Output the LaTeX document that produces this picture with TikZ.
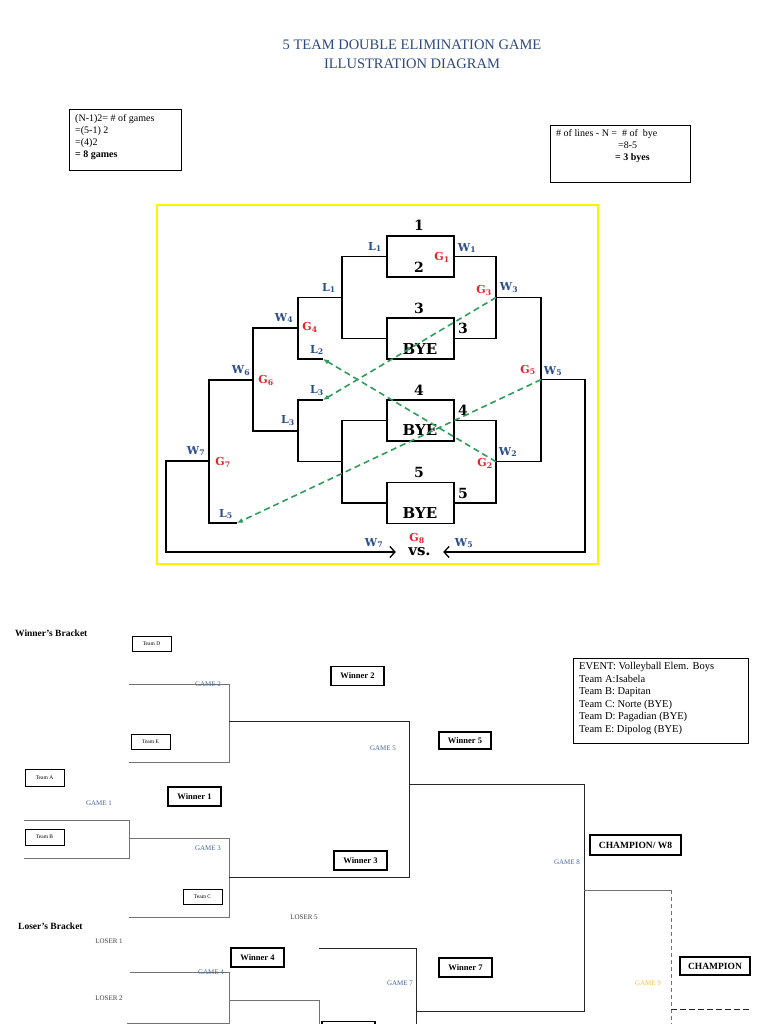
\documentclass[tikz,border=0pt]{standalone}
\usepackage{fontspec}
\setmainfont{Liberation Serif}
\newfontfamily\insetfont{DejaVu Serif}
\usepackage{tikz}
\usetikzlibrary{positioning,arrows.meta}
\definecolor{heading}{HTML}{2E4A7D}
\definecolor{framey}{HTML}{FFF200}
\definecolor{seedblue}{HTML}{2B4E8C}
\definecolor{gamered}{HTML}{E8232A}
\definecolor{dropgreen}{HTML}{2E9E5A}
\definecolor{gameblue}{HTML}{4565A0}
\definecolor{gold}{HTML}{F5C242}
\newcommand{\fsz}[2]{\fontsize{#1}{#2}\selectfont}

\begin{document}
\begin{tikzpicture}[
      x=1pt, y=-1pt,
      title/.style={font=\fsz{14.5}{17}, text=heading, inner sep=0pt},
      notebox/.style={draw, line width=1pt, inner sep=0pt},
      note/.style={font=\fsz{10}{12}, align=left, inner sep=0pt, anchor=north west},
      slot/.style={draw, line width=1.3pt, minimum width=67, minimum height=41, inner sep=0pt},
      seed/.style={font=\insetfont\bfseries\fsz{14}{14}, inner sep=0pt},
      bye/.style={font=\insetfont\bfseries\fsz{15}{15}, inner sep=0pt},
      versus/.style={font=\insetfont\bfseries\fsz{15}{15}, inner sep=0pt, minimum width=47},
      wlbl/.style={font=\insetfont\bfseries\fsz{11}{11}, text=seedblue, inner sep=0pt},
      glbl/.style={font=\insetfont\bfseries\fsz{11}{11}, text=gamered, inner sep=0pt},
      wire/.style={line width=1.3pt},
      final/.style={wire, -{Straight Barb[length=5pt, width=11pt, line width=1.3pt]}},
      crossing/.style={draw=dropgreen, line width=1.6pt, dash pattern=on 6pt off 4pt,
                       -{Latex[length=6pt, width=5pt]}},
      teambox/.style={draw, line width=0.9pt, minimum width=39, minimum height=15,
                      inner sep=0pt, font=\fsz{5.5}{6}},
      winbox/.style={draw, line width=1.1pt, minimum width=53, minimum height=19,
                     inner sep=0pt, font=\bfseries\fsz{8.5}{9}},
      gamelbl/.style={font=\fsz{7}{8}, text=gameblue, inner sep=0pt},
      loserlbl/.style={font=\fsz{7}{8}, text=black!75, inner sep=0pt},
      bracketlbl/.style={font=\bfseries\fsz{9.5}{10}, inner sep=0pt, anchor=west},
      thinwire/.style={line width=0.8pt, draw=black!55},
      darkwire/.style={line width=1pt, draw=black!85},
      dashwire/.style={line width=0.7pt, draw=black!55, dash pattern=on 4pt off 3pt},
      champdash/.style={line width=1pt, draw=black!85, dash pattern=on 6pt off 3pt}
    ]

    \clip (0,0) rectangle (768,1024);
    \fill[white] (0,0) rectangle (768,1024);

    % heading and formulas
    \node[title] (title1) at (412,45) {5 TEAM DOUBLE ELIMINATION GAME};
    \node[title] (title2) at (412,64) {ILLUSTRATION DIAGRAM};

    \node[notebox, minimum width=112, minimum height=61] (games) at (125,140.5) {};
    \node[note] (gamestext) at (75,114)
      {(N-1)2= \# of games\\=(5-1) 2\\=(4)2\\\textbf{= 8 games}};
    \node[notebox, minimum width=140, minimum height=57] (byes) at (620,154.5) {};
    \node[note] (byestext) at (556,129)
      {\# of lines - N =~ \# of~ bye\\\hspace*{62pt}=8-5\\\hspace*{59pt}\textbf{= 3 byes}};

    % illustration
    \draw[draw=framey, line width=2pt] (157,205) rectangle (598,564);

    \node[slot] (slot12) at (420.5,256.5) {};
    \node[slot] (slot3)  at (420.5,338.5) {};
    \node[slot] (slot4)  at (420.5,420.5) {};
    \node[slot] (slot5)  at (420.5,503) {};

    \node[seed] (seed1)  at (419,225) {1};
    \node[seed] (seed2)  at (419,267) {2};
    \node[seed] (seed3)  at (419,308) {3};
    \node[bye]  (bye3)   at (420,349) {BYE};
    \node[seed] (seed3r) at (463,328) {3};
    \node[seed] (seed4)  at (419,390) {4};
    \node[bye]  (bye4)   at (420,430) {BYE};
    \node[seed] (seed4r) at (463,410) {4};
    \node[seed] (seed5)  at (419,472) {5};
    \node[bye]  (bye5)   at (420,513) {BYE};
    \node[seed] (seed5r) at (463,493) {5};
    \node[versus] (vs) at (419.5,552) {vs.};

    \coordinate (l1)  at (342,297.5);
    \coordinate (g3)  at (496,297.5);
    \coordinate (l45) at (342,461.75);
    \coordinate (g2)  at (496,461.75);
    \coordinate (g5)  at (541,379.6);
    \coordinate (g4)  at (298,328);
    \coordinate (l2)  at (323,359);
    \coordinate (l3)  at (323,400);
    \coordinate (l3j) at (298,431);
    \coordinate (g6)  at (253,380);
    \coordinate (g7)  at (209,461);
    \coordinate (l5)  at (237,523);

    \draw[wire] (slot12.west) -| (l1) |- (slot3.west);
    \draw[wire] (slot12.east) -| (g3) |- (slot3.east);
    \draw[wire] (slot4.west) -| (l45) |- (slot5.west);
    \draw[wire] (slot4.east) -| (g2) |- (slot5.east);
    \draw[wire] (g3) -| (g5) |- (g2);
    \draw[wire] (l1) -| (g4) |- (l2);
    \draw[wire] (l3) -| (l3j) |- (l45);
    \draw[wire] (g4) -| (g6) |- (l3j);
    \draw[wire] (g6) -| (g7) |- (l5);
    \draw[final] (g7) -- ++(-43,0) |- (vs.west);
    \draw[final] (g5) -- ++(44,0) |- (vs.east);

    \draw[crossing] (g3) -- (l3);
    \draw[crossing] (g2) -- (l2);
    \draw[crossing] (g5) -- (l5);

    \node[wlbl] (lbl1)  at (375,247) {L\textsubscript{1}};
    \node[wlbl] (wbl1)  at (467,248) {W\textsubscript{1}};
    \node[glbl] (gbl1)  at (442,257) {G\textsubscript{1}};
    \node[wlbl] (lbl1b) at (329,288) {L\textsubscript{1}};
    \node[glbl] (gbl3)  at (484,290) {G\textsubscript{3}};
    \node[wlbl] (wbl3)  at (509,288) {W\textsubscript{3}};
    \node[wlbl] (wbl4)  at (284,318) {W\textsubscript{4}};
    \node[glbl] (gbl4)  at (310,327) {G\textsubscript{4}};
    \node[wlbl] (lbl2)  at (317,350) {L\textsubscript{2}};
    \node[wlbl] (wbl6)  at (241,371) {W\textsubscript{6}};
    \node[glbl] (gbl6)  at (266,380) {G\textsubscript{6}};
    \node[glbl] (gbl5)  at (528,370) {G\textsubscript{5}};
    \node[wlbl] (wbl5)  at (553,371) {W\textsubscript{5}};
    \node[wlbl] (lbl3)  at (317,391) {L\textsubscript{3}};
    \node[wlbl] (lbl3b) at (288,421) {L\textsubscript{3}};
    \node[wlbl] (wbl2)  at (508,452) {W\textsubscript{2}};
    \node[glbl] (gbl2)  at (485,463) {G\textsubscript{2}};
    \node[wlbl] (wbl7)  at (196,451) {W\textsubscript{7}};
    \node[glbl] (gbl7)  at (223,462) {G\textsubscript{7}};
    \node[wlbl] (lbl5)  at (226,514) {L\textsubscript{5}};
    \node[glbl] (gbl8)  at (417,538) {G\textsubscript{8}};
    \node[wlbl] (wbl7b) at (374,543) {W\textsubscript{7}};
    \node[wlbl] (wbl5b) at (464,543) {W\textsubscript{5}};

    % bracket sheet
    \node[bracketlbl] (winners) at (15,633) {Winner's Bracket};
    \node[bracketlbl] (losers) at (18,926) {Loser's Bracket};

    \draw[thinwire] (24,820) -| (129,858) -- (24,858);
    \draw[thinwire] (129,684) -| (229,762) -- (129,762);
    \draw[thinwire] (129,838) -| (229,917) -- (129,917);
    \draw[darkwire] (229,721) -| (409,877) -- (229,877);
    \draw[darkwire] (409,784) -| (584,1011) -- (416,1011);
    \draw[thinwire] (584,890) -- (671,890);
    \draw[dashwire] (671,890) -- (671,1030);
    \draw[champdash] (671,1009) -- (751,1009);
    \draw[darkwire] (319,948) -| (416,1030);
    \draw[thinwire] (130,972) -| (229,1030);
    \draw[thinwire] (229,1000) -| (319,1030);
    \draw[thinwire] (127,1023) -- (229,1023);

    \node[teambox] (teamd) at (151.5,643.5) {Team D};
    \node[teambox] (teame) at (150.5,741.5) {Team E};
    \node[teambox, minimum height=17] (teama) at (44.5,777.5) {Team A};
    \node[teambox, minimum height=16] (teamb) at (44.5,837) {Team B};
    \node[teambox] (teamc) at (202.5,896.5) {Team C};

    \node[winbox] (winner1) at (194.5,796.5) {Winner 1};
    \node[winbox] (winner2) at (357.5,676) {Winner 2};
    \node[winbox] (winner3) at (360.5,860.5) {Winner 3};
    \node[winbox] (winner4) at (257.5,957.5) {Winner 4};
    \node[winbox, minimum width=52, minimum height=17] (winner5) at (465,740.5) {Winner 5};
    \node[winbox] (winner6) at (348.5,1031) {};
    \node[winbox] (winner7) at (465.5,967.5) {Winner 7};
    \node[winbox, minimum width=91, minimum height=20, font=\bfseries\fsz{9.5}{10}]
      (champw8) at (635.5,845) {CHAMPION/ W8};
    \node[winbox, minimum width=70, minimum height=18, font=\bfseries\fsz{9.5}{10}]
      (champion) at (715,966) {CHAMPION};

    \node[gamelbl] (game1) at (99,803) {GAME 1};
    \node[gamelbl] (game2) at (208,684) {GAME 2};
    \node[gamelbl] (game3) at (208,848) {GAME 3};
    \node[gamelbl] (game4) at (211,972) {GAME 4};
    \node[gamelbl] (game5) at (383,748) {GAME 5};
    \node[gamelbl] (game7) at (400,983) {GAME 7};
    \node[gamelbl] (game8) at (567,862) {GAME 8};
    \node[gamelbl, text=gold] (game9) at (648,983) {GAME 9};

    \node[loserlbl] (loser1) at (109,941) {LOSER 1};
    \node[loserlbl] (loser2) at (109,998) {LOSER 2};
    \node[loserlbl] (loser5) at (304,917) {LOSER 5};

    \node[notebox, minimum width=175, minimum height=85] (event) at (660.5,700.5) {};
    \node[note, font=\fsz{10.5}{12.6}] (eventtext) at (579,662)
      {EVENT: Volleyball Elem. Boys\\Team A:Isabela\\Team B: Dapitan\\Team C: Norte (BYE)\\%
       Team D: Pagadian (BYE)\\Team E: Dipolog (BYE)};

  \end{tikzpicture}
\end{document}
